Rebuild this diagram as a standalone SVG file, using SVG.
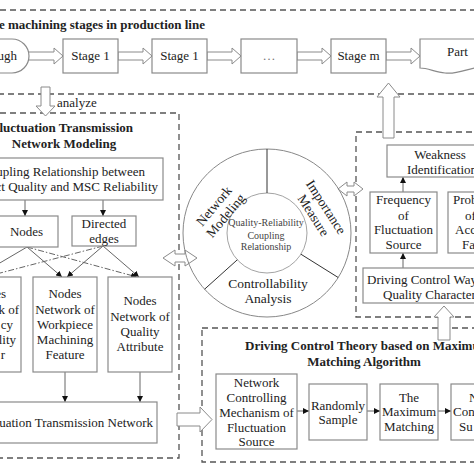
<svg xmlns="http://www.w3.org/2000/svg" width="474" height="474" viewBox="0 0 474 474">
<defs>
<marker id="ah" viewBox="0 0 10 10" refX="10" refY="5" markerWidth="6" markerHeight="6" orient="auto" markerUnits="userSpaceOnUse">
<path d="M0 0 L10 5 L0 10 Z" fill="#111"/>
</marker>
</defs>
<style>
text{font-family:"Liberation Serif","Times New Roman",serif;font-size:13px;fill:#222}
.b{font-weight:bold}
.m{text-anchor:middle}
.e{text-anchor:end}
.box{fill:#fff;stroke:#8a8a8a;stroke-width:1.2}
.dash{fill:none;stroke:#555;stroke-width:1.3;stroke-dasharray:6 4}
.ha{fill:#fff;stroke:#8a8a8a;stroke-width:1}
.ln{fill:none;stroke:#666;stroke-width:1}
.dd{fill:none;stroke:#666;stroke-width:1;stroke-dasharray:6 2 1.5 2}
.small{font-size:10px;fill:#444}
.c{font-size:13.5px}
</style>
<rect width="474" height="474" fill="#fff"/>

<g id="frames">
<rect class="dash" x="-10" y="10" width="500" height="84"/>
<rect class="dash" x="-10" y="113" width="189" height="345"/>
<rect class="dash" x="356" y="132" width="140" height="185"/>
<rect class="dash" x="202" y="328" width="290" height="134"/>
</g>

<g id="title-production"><text class="b" x="-1" y="29">e machining stages in production line</text></g>

<g id="connectors">
<path class="ha" d="M28 52 H54 V48 L63 56 L54 64 V60 H28 Z"/>
<path class="ha" d="M118 52 H143 V48 L152 56 L143 64 V60 H118 Z"/>
<path class="ha" d="M207 52 H232 V48 L241 56 L232 64 V60 H207 Z"/>
<path class="ha" d="M297 52 H322 V48 L331 56 L322 64 V60 H297 Z"/>
<path class="ha" d="M386 52 H411 V48 L420 56 L411 64 V60 H386 Z"/>
<path class="ha" d="M41 87 H50 V106 H55 L45.5 116 L36 106 H41 Z"/>
<path class="ha" d="M383 138 V97 H377 L388.5 83 L400 97 H394 V138 Z"/>
<path class="ha" d="M438 340 V317 H434 L444 306 L454 317 H450 V340 Z"/>
<path class="ha" d="M177 413 H200 V407 L212 419.5 L200 432 V426 H177 Z"/>
<path class="ha" d="M163 258 L175 250 V254 H185 V250 L197 258 L185 266 V262 H175 V266 Z"/>
<path class="ha" d="M338 189 L347 182 V186 H354 V182 L363 189 L354 196 V192 H347 V196 Z"/>
<line class="ln" x1="25" y1="200" x2="25" y2="216" marker-end="url(#ah)"/>
<line class="ln" x1="103" y1="200" x2="103" y2="216" marker-end="url(#ah)"/>
<line class="ln" x1="27" y1="247" x2="62" y2="277" marker-end="url(#ah)"/>
<line class="ln" x1="27" y1="247" x2="-24" y2="277"/>
<line class="dd" x1="27" y1="247" x2="137" y2="277" marker-end="url(#ah)"/>
<line class="ln" x1="103" y1="246" x2="67" y2="277" marker-end="url(#ah)"/>
<line class="ln" x1="103" y1="246" x2="139" y2="277" marker-end="url(#ah)"/>
<line class="dd" x1="103" y1="246" x2="-15" y2="277"/>
<line class="ln" x1="65" y1="372" x2="65" y2="402" marker-end="url(#ah)"/>
<line class="ln" x1="140" y1="372" x2="140" y2="402" marker-end="url(#ah)"/>
<line class="ln" x1="403" y1="192" x2="403" y2="177" marker-end="url(#ah)"/>
<line class="ln" x1="403" y1="268" x2="403" y2="253" marker-end="url(#ah)"/>
<line class="ln" x1="297" y1="411" x2="309" y2="411" marker-end="url(#ah)"/>
<line class="ln" x1="367" y1="411" x2="380" y2="411" marker-end="url(#ah)"/>
<line class="ln" x1="438" y1="411" x2="451" y2="411" marker-end="url(#ah)"/>
</g>

<g id="rough"><path class="box" d="M-10 39 H12 A17 17 0 0 1 12 73 H-10 Z"/><text x="17" y="60" class="e">ugh</text></g>
<g id="stage1a"><rect class="box" x="63" y="39" width="55" height="34"/><text class="m" x="90.5" y="60">Stage 1</text></g>
<g id="stage1b"><rect class="box" x="152" y="39" width="55" height="34"/><text class="m" x="179.5" y="60">Stage 1</text></g>
<g id="dots"><rect class="box" x="241" y="39" width="56" height="34"/><text class="m" x="269" y="60" style="fill:#777">…</text></g>
<g id="stagem"><rect class="box" x="331" y="39" width="55" height="34"/><text class="m" x="358.5" y="60">Stage m</text></g>
<g id="part"><path class="box" d="M420 39 H490 V66 C470 66 460 75 445 73 C435 72 428 68 420 68 Z"/><text x="447" y="56">Part</text></g>

<g id="analyze-label"><text x="57" y="107">analyze</text></g>

<g id="left-title"><text class="b e" x="133" y="132">Fluctuation Transmission</text><text class="b m" x="64" y="148">Network Modeling</text></g>
<g id="coupling"><rect class="box" x="-10" y="158" width="173" height="42"/><text class="e" x="145" y="176">upling Relationship between</text><text class="e" x="158" y="191">ct Quality and MSC Reliability</text></g>
<g id="nodes"><rect class="box" x="-10" y="216" width="68" height="31"/><text class="m" x="26.5" y="236">Nodes</text></g>
<g id="edges"><rect class="box" x="72" y="216" width="64" height="30"/><text class="m" x="104" y="228">Directed</text><text class="m" x="104" y="243">edges</text></g>
<g id="nn1"><rect class="box" x="-40" y="277" width="61" height="95"/>
<text class="e" x="6" y="298">es</text><text class="e" x="19" y="313.5">k of</text><text class="e" x="13" y="329">cy</text><text class="e" x="16" y="344">lity</text><text class="e" x="5" y="359">r</text></g>
<g id="nn2"><rect class="box" x="33" y="277" width="64" height="95"/>
<text class="m" x="65" y="298">Nodes</text><text class="m" x="65" y="313.5">Network of</text><text class="m" x="65" y="329">Workpiece</text><text class="m" x="65" y="344">Machining</text><text class="m" x="65" y="359">Feature</text></g>
<g id="nn3"><rect class="box" x="108" y="277" width="64" height="95"/>
<text class="m" x="140" y="305">Nodes</text><text class="m" x="140" y="321">Network of</text><text class="m" x="140" y="336">Quality</text><text class="m" x="140" y="351">Attribute</text></g>
<g id="ftn"><rect class="box" x="-10" y="402" width="167" height="41"/><text class="e" x="153" y="427">ctuation Transmission Network</text></g>

<g id="circle">
<circle cx="267" cy="233" r="84" fill="none" stroke="#888" stroke-width="1"/>
<circle cx="267" cy="233" r="40" fill="none" stroke="#999" stroke-width="0.9"/>
<line x1="267" y1="193" x2="267" y2="149" stroke="#333" stroke-width="1"/>
<line x1="237.3" y1="259.8" x2="204.6" y2="289.2" stroke="#333" stroke-width="1"/>
<line x1="300.9" y1="254.2" x2="338.2" y2="277.5" stroke="#333" stroke-width="1"/>
<text class="small m" x="266" y="226">Quality-Reliability</text>
<text class="small m" x="266" y="238.5">Coupling</text>
<text class="small m" x="266" y="250">Relationship</text>
<text class="m c" transform="translate(217.4,208.9) rotate(-50)">Network</text>
<text class="m c" transform="translate(229,218.5) rotate(-50)">Modeling</text>
<text class="m c" transform="translate(322.2,209.5) rotate(57)">Importance</text>
<text class="m c" transform="translate(309.6,217.7) rotate(57)">Measure</text>
<text class="m c" x="268" y="288">Controllability</text>
<text class="m c" x="268" y="303">Analysis</text>
</g>

<g id="weakness"><rect class="box" x="387" y="145" width="110" height="32"/><text class="m" x="440" y="158.5">Weakness</text><text x="407" y="173.5">Identification</text></g>
<g id="frequency"><rect class="box" x="370" y="192" width="67" height="61"/>
<text class="m" x="403.5" y="203.5">Frequency</text><text class="m" x="403.5" y="219.5">of</text><text class="m" x="403.5" y="233.5">Fluctuation</text><text class="m" x="403.5" y="248.5">Source</text></g>
<g id="probability"><rect class="box" x="448" y="192" width="60" height="61"/>
<text x="453" y="203.5">Prob</text><text x="465" y="219.5">of</text><text x="455" y="233.5">Acc</text><text x="462" y="248.5">Fa</text></g>
<g id="driving"><rect class="box" x="363" y="268" width="150" height="35"/><text x="367" y="283.5">Driving Control Way</text><text x="383" y="298.5">Quality Character</text></g>

<g id="lower-title"><text class="b" x="245" y="350">Driving Control Theory based on Maximu</text><text class="b m" x="364" y="366">Matching Algorithm</text></g>
<g id="ncm"><rect class="box" x="216" y="374" width="81" height="75"/>
<text class="m" x="256.5" y="386.5">Network</text><text class="m" x="256.5" y="401.5">Controlling</text><text class="m" x="256.5" y="416.5">Mechanism of</text><text class="m" x="256.5" y="431.5">Fluctuation</text><text class="m" x="256.5" y="446">Source</text></g>
<g id="random"><rect class="box" x="309" y="384" width="58" height="56"/><text class="m" x="338" y="409.5">Randomly</text><text class="m" x="338" y="423.5">Sample</text></g>
<g id="maxmatch"><rect class="box" x="380" y="384" width="58" height="56"/><text class="m" x="409" y="401.5">The</text><text class="m" x="409" y="415.5">Maximum</text><text class="m" x="409" y="430.5">Matching</text></g>
<g id="mcs"><rect class="box" x="451" y="384" width="60" height="56"/><text x="469" y="401.5">N</text><text x="453" y="415.5">Con</text><text x="459" y="430.5">Su</text></g>
</svg>
